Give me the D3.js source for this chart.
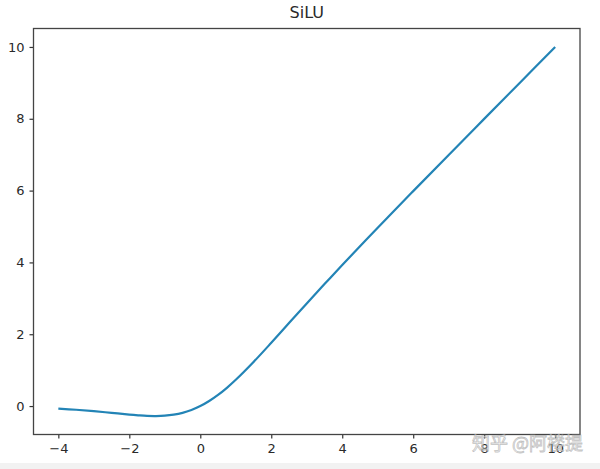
<!DOCTYPE html>
<html><head><meta charset="utf-8">
<script src="https://cdn.jsdelivr.net/npm/d3@7/dist/d3.min.js"></script>
<style>body{margin:0;background:#fff}svg{display:block}</style>
</head><body>
<svg id="c" width="600" height="469"></svg>
<script>
const title = "SiLU";
const xValues = [-4, -3.5, -3, -2.5, -2, -1.75, -1.5, -1.25, -1, -0.75, -0.5, -0.25, 0, 0.25, 0.5, 0.75, 1, 1.5, 2, 2.5, 3, 3.5, 4, 5, 6, 7, 8, 9, 10];
const yValues = [-0.072, -0.103, -0.142, -0.189, -0.238, -0.258, -0.274, -0.278, -0.269, -0.240, -0.189, -0.109, 0, 0.141, 0.311, 0.508, 0.731, 1.227, 1.762, 2.311, 2.858, 3.396, 3.928, 4.967, 5.985, 6.994, 7.997, 8.999, 10.0];
const xTicks = [-4, -2, 0, 2, 4, 6, 8, 10];
const yTicks = [0, 2, 4, 6, 8, 10];
const watermark = "知乎 @阿楼提";

const svg = d3.select("#c");
const L = 33.5, R = 580, T = 28.5, B = 434.5;
const x = d3.scaleLinear().domain([-4.7, 10.7]).range([L, R]);
const y = d3.scaleLinear().domain([-0.792, 10.514]).range([B, T]);
const font = "DejaVu Sans, sans-serif";

svg.append("rect").attr("x",0).attr("y",463).attr("width",600).attr("height",6).attr("fill","#f2f2f2");

const line = d3.line().x((d,i)=>x(xValues[i])).y(d=>y(d)).curve(d3.curveCatmullRom);
svg.append("path").datum(yValues).attr("d", line)
  .attr("fill","none").attr("stroke","#2384b6").attr("stroke-width",2.2);

const xAxis = svg.append("g").attr("transform",`translate(0,${B})`)
  .call(d3.axisBottom(x).tickValues(xTicks).tickSize(4).tickPadding(5).tickFormat(d=>d<0?"\u2212"+(-d):d));
const yAxis = svg.append("g").attr("transform",`translate(${L},0)`)
  .call(d3.axisLeft(y).tickValues(yTicks).tickSize(4).tickPadding(5).tickFormat(d=>d));
[xAxis,yAxis].forEach(g=>{
  g.select(".domain").remove();
  g.selectAll("line").attr("stroke","#333").attr("stroke-width",1.2);
  g.selectAll("text").attr("fill","#2a2a2a").style("font-family",font).style("font-size","13px");
});
svg.append("rect").attr("x",L).attr("y",T).attr("width",R-L).attr("height",B-T)
  .attr("fill","none").attr("stroke","#444").attr("stroke-width",1.3);

svg.append("text").attr("x",(L+R)/2).attr("y",18).attr("text-anchor","middle")
  .style("font-family",font).style("font-size","16px").attr("fill","#2a2a2a").text(title);

svg.append("text").attr("x",583).attr("y",450).attr("text-anchor","end")
  .style("font-family","Noto Sans CJK SC, sans-serif").style("font-size","18px")
  .attr("fill","rgba(255,255,255,0.6)").attr("stroke","rgba(150,150,150,0.6)").attr("stroke-width",0.8)
  .text(watermark);
</script>
</body></html>
